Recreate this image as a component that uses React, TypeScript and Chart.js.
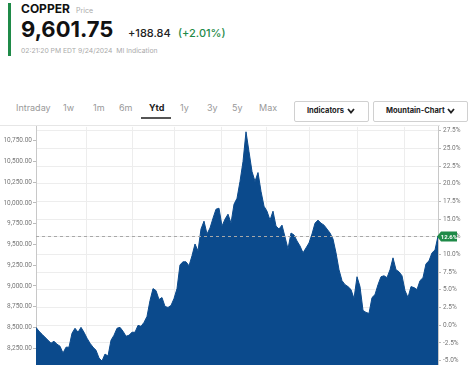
import React, { useEffect, useRef } from 'react';
import { Chart, registerables } from 'chart.js';

Chart.register(...registerables);

// ---- data ----
const prices: number[] = [
  8501, 8454, 8418, 8382, 8346, 8310, 8334, 8298, 8274, 8191,
  8262, 8262, 8430, 8490, 8442, 8501, 8442, 8370, 8310, 8262,
  8226, 8131, 8095, 8179, 8155, 8346, 8406, 8490, 8501, 8454,
  8394, 8406, 8442, 8442, 8525, 8513, 8561, 8633, 8824, 8968,
  8944, 8836, 8860, 8753, 8741, 8765, 8848, 8968, 9255, 9291,
  9291, 9243, 9363, 9506, 9422, 9686, 9781, 9626, 9698, 9817,
  9925, 9937, 9721, 9805, 9865, 9757, 9985, 10056, 10260, 10499,
  10858, 10618, 10379, 10260, 10367, 10140, 9961, 9901, 9793, 9901,
  9721, 9686, 9733, 9590, 9446, 9638, 9614, 9542, 9482, 9399,
  9458, 9518, 9626, 9757, 9793, 9757, 9733, 9686, 9638, 9566,
  9399, 9195, 9064, 9016, 8992, 8956, 8848, 9111, 8992, 8705,
  8681, 8669, 8860, 8896, 9016, 9111, 9123, 9100, 9195, 9339,
  9195, 9171, 9123, 8944, 8860, 8992, 8980, 8956, 9064, 9100,
  9267, 9303, 9399, 9434, 9601.75,
];
const lastPrice = 9601.75;
const change = 188.84;
const changePct = 2.01;
const basePrice = 8527; // reference for the % axis
const priceTicks = [8250, 8500, 8750, 9000, 9250, 9500, 9750, 10000, 10250, 10500, 10750];
const pctTicks = [-5, -2.5, 0, 2.5, 5, 7.5, 10, 12.5, 15, 17.5, 20, 22.5, 25, 27.5];
const priceMin = 7963;
const priceMax = 10917;
const monthStartIdx = [16.7, 32, 46.3, 61.7, 76.7, 91.3, 107.3, 122.7];
const periods = ['Intraday', '1w', '1m', '6m', 'Ytd', '1y', '3y', '5y', 'Max'];
const periodX = [16, 63, 93, 119, 149, 180, 207, 232, 259];

const BLUE = '#0b4a8c';
const GREEN = '#1f8a48';
const FONT = "Inter, 'Noto Sans', sans-serif";

const toPct = (p: number) => (p / basePrice - 1) * 100;

const lastPricePlugin = {
  id: 'lastPrice',
  afterDatasetsDraw(chart: any) {
    const { ctx, chartArea, scales } = chart;
    const y = scales.y.getPixelForValue(lastPrice);
    ctx.save();
    ctx.strokeStyle = '#a8a8a8';
    ctx.lineWidth = 1;
    ctx.setLineDash([3, 3]);
    ctx.beginPath();
    ctx.moveTo(chartArea.left, Math.round(y) + 0.5);
    ctx.lineTo(chartArea.right, Math.round(y) + 0.5);
    ctx.stroke();
    ctx.restore();
  },
  afterDraw(chart: any) {
    const { ctx, chartArea, scales } = chart;
    const y = Math.round(scales.y.getPixelForValue(lastPrice)) + 0.5;
    const x0 = chartArea.right;
    ctx.save();
    ctx.fillStyle = GREEN;
    ctx.beginPath();
    ctx.moveTo(x0 - 1, y);
    ctx.lineTo(x0 + 3, y - 5);
    ctx.lineTo(x0 + 19, y - 5);
    ctx.lineTo(x0 + 19, y + 5);
    ctx.lineTo(x0 + 3, y + 5);
    ctx.closePath();
    ctx.fill();
    ctx.fillStyle = '#ffffff';
    ctx.font = "bold 6px Roboto, sans-serif";
    ctx.textAlign = 'center';
    ctx.textBaseline = 'middle';
    ctx.fillText(toPct(lastPrice).toFixed(1) + '%', x0 + 11, y + 0.5);
    ctx.restore();
  },
};

function Chevron({ x, y }: { x: number; y: number }) {
  return (
    <svg style={{ position: 'absolute', left: x, top: y }} width={8} height={6} viewBox="0 0 8 6">
      <polyline points="1,1 4,4.5 7,1" fill="none" stroke="#222" strokeWidth={1.8} />
    </svg>
  );
}

export default function App() {
  const ref = useRef<HTMLCanvasElement | null>(null);

  useEffect(() => {
    if (!ref.current) return;
    const chart = new Chart(ref.current, {
      type: 'line',
      data: {
        datasets: [
          {
            data: prices.map((p, i) => ({ x: i, y: p })),
            borderColor: BLUE,
            backgroundColor: BLUE,
            borderWidth: 1,
            fill: 'start',
            pointRadius: 0,
            tension: 0,
            yAxisID: 'y',
          },
        ],
      },
      options: {
        animation: false,
        responsive: false,
        maintainAspectRatio: false,
        layout: { padding: { top: 4, bottom: 9, left: 0, right: 0 } },
        plugins: { legend: { display: false }, tooltip: { enabled: false } },
        scales: {
          x: {
            type: 'linear',
            min: 0,
            max: prices.length - 1,
            afterBuildTicks: (s: any) => {
              s.ticks = monthStartIdx.map((v) => ({ value: v }));
            },
            ticks: { display: false },
            grid: { color: '#ededed', drawTicks: false },
            border: { display: false },
            afterFit: (s: any) => {
              s.height = 0;
            },
          },
          y: {
            position: 'left',
            min: priceMin,
            max: priceMax,
            afterBuildTicks: (s: any) => {
              s.ticks = priceTicks.map((v) => ({ value: v }));
            },
            ticks: {
              color: '#777',
              font: { family: 'Roboto', size: 6.5 },
              padding: 1,
              callback: (v: any) =>
                Number(v).toLocaleString('en-US', { minimumFractionDigits: 2, maximumFractionDigits: 2 }),
            },
            grid: { drawOnChartArea: false, tickLength: 3, tickColor: '#bbb' },
            border: { display: true, color: '#c8c8c8' },
            afterFit: (s: any) => {
              s.width = 36;
            },
          },
          y1: {
            position: 'right',
            min: toPct(priceMin),
            max: toPct(priceMax),
            afterBuildTicks: (s: any) => {
              s.ticks = pctTicks.map((v) => ({ value: v }));
            },
            ticks: {
              color: '#777',
              font: { family: 'Roboto', size: 6.5 },
              padding: 2,
              callback: (v: any) => Number(v).toFixed(1) + '%',
            },
            grid: { drawOnChartArea: true, color: '#ededed', tickLength: 3, tickColor: '#bbb' },
            border: { display: true, color: '#c8c8c8' },
            afterFit: (s: any) => {
              s.width = 36;
            },
          },
        },
      },
      plugins: [lastPricePlugin],
    } as any);
    return () => chart.destroy();
  }, []);

  return (
    <div
      style={{
        position: 'fixed',
        left: 0,
        top: 0,
        width: 474,
        height: 365,
        overflow: 'hidden',
        background: '#fff',
        fontFamily: FONT,
      }}
    >
      {/* header */}
      <div style={{ position: 'absolute', left: 8, top: 3, width: 3, height: 53, background: GREEN }} />
      <div style={{ position: 'absolute', left: 21, top: 3, fontSize: 12, lineHeight: '12px', fontWeight: 700, color: '#111' }}>
        COPPER
      </div>
      <div style={{ position: 'absolute', left: 76, top: 6.5, fontSize: 7, lineHeight: '7px', color: '#aaa' }}>Price</div>
      <div style={{ position: 'absolute', left: 21, top: 18, fontSize: 22, lineHeight: '23px', fontWeight: 700, color: '#111' }}>
        {lastPrice.toLocaleString('en-US', { minimumFractionDigits: 2 })}
      </div>
      <div style={{ position: 'absolute', left: 128, top: 27.5, fontSize: 11, lineHeight: '11px', fontWeight: 500, color: '#222' }}>
        +{change.toFixed(2)}
      </div>
      <div style={{ position: 'absolute', left: 178, top: 27.5, fontSize: 11, lineHeight: '11px', fontWeight: 500, color: GREEN }}>
        (+{changePct.toFixed(2)}%)
      </div>
      <div style={{ position: 'absolute', left: 21, top: 47, fontSize: 6.8, lineHeight: '7px', color: '#aaa', whiteSpace: 'nowrap' }}>
        02:21:20 PM EDT 9/24/2024&nbsp;&nbsp;MI Indication
      </div>

      {/* period tabs */}
      {periods.map((p, i) => (
        <div
          key={p}
          style={{
            position: 'absolute',
            left: periodX[i],
            top: 103,
            fontSize: 9,
            lineHeight: '9px',
            fontWeight: p === 'Ytd' ? 700 : 400,
            color: p === 'Ytd' ? '#222' : '#999',
          }}
        >
          {p}
        </div>
      ))}
      <div style={{ position: 'absolute', left: 141, top: 117, width: 30, height: 2, background: '#555' }} />

      {/* buttons */}
      <div style={{ position: 'absolute', left: 294, top: 101, width: 73, height: 19, border: '1px solid #d0d0d0', borderRadius: 2 }} />
      <div style={{ position: 'absolute', left: 307, top: 107, fontSize: 7.5, lineHeight: '8px', fontWeight: 700, color: '#222' }}>
        Indicators
      </div>
      <Chevron x={347} y={108} />
      <div style={{ position: 'absolute', left: 373, top: 101, width: 93, height: 19, border: '1px solid #d0d0d0', borderRadius: 2 }} />
      <div style={{ position: 'absolute', left: 386, top: 107, fontSize: 7.5, lineHeight: '8px', fontWeight: 700, color: '#222' }}>
        Mountain-Chart
      </div>
      <Chevron x={447} y={108} />

      <div style={{ position: 'absolute', left: 0, top: 125, width: 440, height: 1, background: '#e6e6e6' }} />

      {/* chart */}
      <div style={{ position: 'absolute', left: 0, top: 121, width: 474, height: 260 }}>
        <canvas ref={ref} width={474} height={260} style={{ width: 474, height: 260, display: 'block' }} />
      </div>
    </div>
  );
}
